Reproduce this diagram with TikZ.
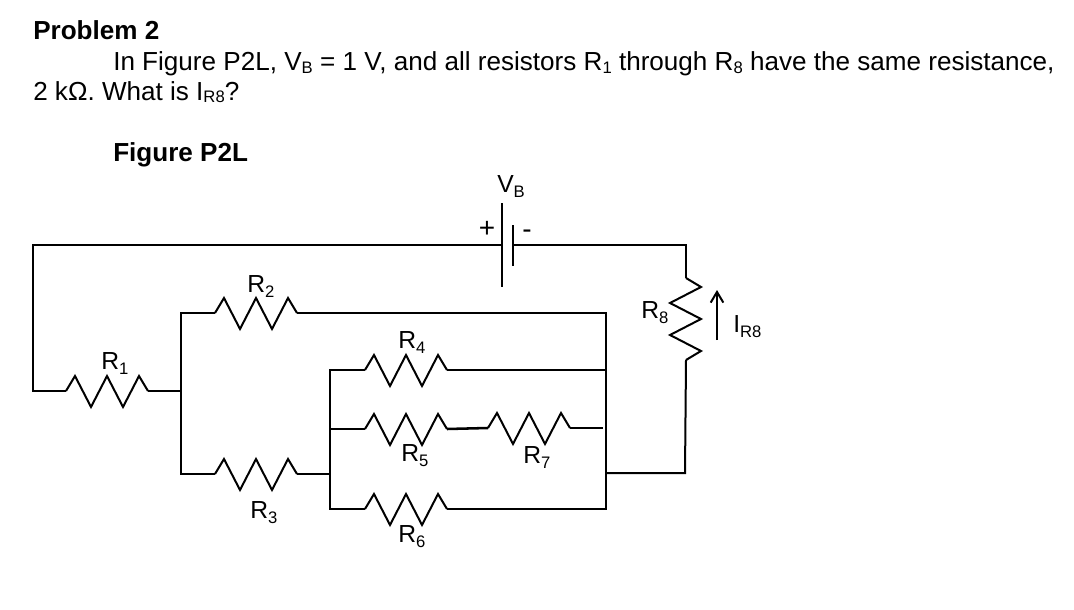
\documentclass[tikz,border=0pt]{standalone}
\usepackage{fontspec}
\setmainfont{Liberation Sans}
\usetikzlibrary{arrows,arrows.meta,positioning}
\newcommand{\bodysub}[1]{{\fontsize{12.5}{13}\selectfont\raisebox{-1.6pt}{#1}}}
\newcommand{\labsub}[1]{{\fontsize{12.5}{13}\selectfont\raisebox{-4pt}{#1}}}
\tikzset{
	wire/.style={line width=1.5pt,line join=miter},
	bodytext/.style={anchor=base west,inner sep=0pt,font=\fontsize{19.56}{21}\selectfont},
	boldtext/.style={bodytext,font=\fontsize{19.56}{21}\selectfont\bfseries},
	partlabel/.style={anchor=base west,inner sep=0pt,font=\fontsize{18.5}{19}\selectfont},
	signlabel/.style={inner sep=0pt,font=\fontsize{21}{21}\selectfont},
	resistor/.pic={
		\coordinate (-w) at (-41,0);
		\coordinate (-e) at (41,0);
		\draw[wire] (-w) -- (-32,-15) -- (-16,16) -- (0,-15) -- (16,16) -- (32,-15) -- (-e);
	}
}
\begin{document}
\begin{tikzpicture}[x=0.75pt,y=-0.75pt]
		\useasboundingbox (0,0) rectangle (1074,610);
		\node[boldtext] (title) at (33,40) {Problem 2};
		\node[bodytext] (lineone) at (113,71) {In Figure P2L, V\bodysub{B} = 1 V, and all resistors R\bodysub{1} through R\bodysub{8} have the same resistance,};
		\node[bodytext] (linetwo) at (33,100) {2 kΩ. What is I\bodysub{R8}?};
		\node[boldtext] (figname) at (113,161) {Figure P2L};
		\pic (R1) at (107,391) {resistor};
		\pic (R2) at (256,313) {resistor};
		\pic (R3) at (256,474) {resistor};
		\pic (R4) at (406,370) {resistor};
		\pic (R5) at (406,429) {resistor};
		\pic (R6) at (406,509) {resistor};
		\pic (R7) at (529,428) {resistor};
		\pic[rotate=-90] (R8) at (686,319) {resistor};
		\coordinate (topleft) at (33,245);
		\coordinate (topright) at (686,245);
		\coordinate (botleft) at (33,391);
		\coordinate (plusplate) at (502,245);
		\coordinate (plustop) at (502,203);
		\coordinate (plusbot) at (502,287);
		\coordinate (minusplate) at (513,245);
		\coordinate (minustop) at (513,225);
		\coordinate (minusbot) at (513,266);
		\coordinate (splitA) at (181,391);
		\coordinate (splitT) at (181,313);
		\coordinate (splitB) at (181,474);
		\coordinate (innerT) at (330,370);
		\coordinate (innerM) at (330,429);
		\coordinate (innerC) at (330,474);
		\coordinate (innerB) at (330,509);
		\coordinate (railT) at (606,313);
		\coordinate (railA) at (606,370);
		\coordinate (railM) at (603,428);
		\coordinate (railC) at (606,473);
		\coordinate (railB) at (606,509);
		\coordinate (lowright) at (685,473);
		\draw[wire] (plusplate) -- (topleft) -- (botleft) -- (R1-w);
		\draw[wire] (minusplate) -- (topright) -- (R8-w);
		\draw[wire] (plustop) -- (plusbot);
		\draw[wire] (minustop) -- (minusbot);
		\draw[wire] (R1-e) -- (splitA);
		\draw[wire] (R2-w) -- (splitT) -- (splitB) -- (R3-w);
		\draw[wire] (R2-e) -- (railT) -- (railB) -- (R6-e);
		\draw[wire] (R3-e) -- (innerC);
		\draw[wire] (R4-w) -- (innerT) -- (innerB) -- (R6-w);
		\draw[wire] (R4-e) -- (railA);
		\draw[wire] (innerM) -- (R5-w);
		\draw[wire,line width=1.9pt] (R5-e) -- (R7-w);
		\draw[wire] (R7-e) -- (railM);
		\draw[wire] (railC) -- (lowright) -- (R8-e);
		\coordinate (arrowfoot) at (717,340);
		\coordinate (arrowtip) at (717,290);
		\draw[wire,-{Straight Barb[length=8pt,width=9.5pt]}] (arrowfoot) -- (arrowtip);
		\node[partlabel] (labR1) at (101,369) {R\labsub{1}};
		\node[partlabel] (labR2) at (247,292) {R\labsub{2}};
		\node[partlabel] (labR3) at (250,518) {R\labsub{3}};
		\node[partlabel] (labR4) at (398,348) {R\labsub{4}};
		\node[partlabel] (labR5) at (401,461) {R\labsub{5}};
		\node[partlabel] (labR6) at (398,542) {R\labsub{6}};
		\node[partlabel] (labR7) at (523,463) {R\labsub{7}};
		\node[partlabel] (labR8) at (641,318) {R\labsub{8}};
		\node[partlabel] (labVB) at (497,192) {V\labsub{B}};
		\node[partlabel] (labI) at (733,332) {I\labsub{R8}};
		\node[signlabel] (plus) at (487,229) {+};
		\node[signlabel] (minus) at (527,234) {-};
	\end{tikzpicture}
\end{document}
